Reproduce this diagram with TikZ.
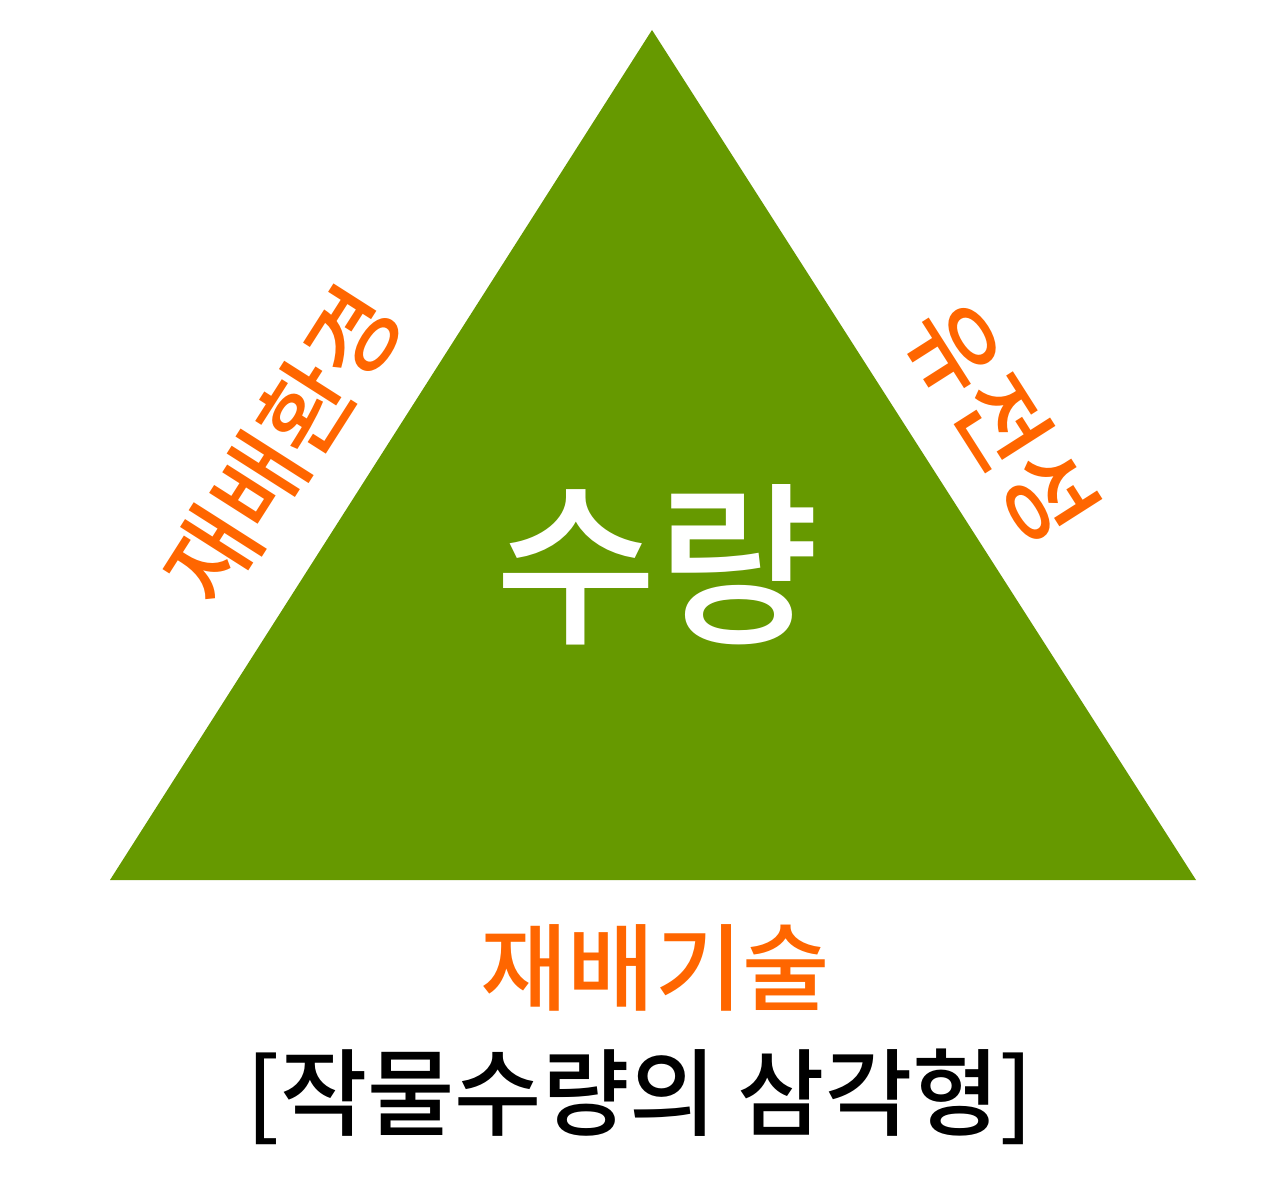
\documentclass[tikz,border=0pt]{standalone}
\usepackage{fontspec}
\setmainfont{Noto Sans CJK KR Medium}
\usepackage{tikz}
\usetikzlibrary{positioning}
\definecolor{cropgreen}{HTML}{669900}
\definecolor{factor}{HTML}{FF6600}

\begin{document}
\begin{tikzpicture}[x=0.02cm,y=-0.02cm,factor/.style={text=factor,font=\fontsize{54}{60}\selectfont,inner sep=0pt}]
	\useasboundingbox (0,0) rectangle (1261,1192);
	\coordinate (top) at (652,30);
	\coordinate (left) at (110,880);
	\coordinate (right) at (1196,880);
	\fill[cropgreen] (top) -- (left) -- (right) -- cycle;

	\node[text=white,font=\fontsize{100}{110}\selectfont,inner sep=0pt] (yield) at (657,565) {수량};
	\node[factor,rotate=57.5] (env) at (282,445) {재배환경};
	\node[factor,rotate=-57.5] (gene) at (1002,422) {유전성};
	\node[factor] (tech) at (655,968) {재배기술};
	\node[font=\fontsize{54}{60}\selectfont,inner sep=0pt] (title) at (640,1097) {[작물수량의 삼각형]};
\end{tikzpicture}
\end{document}
